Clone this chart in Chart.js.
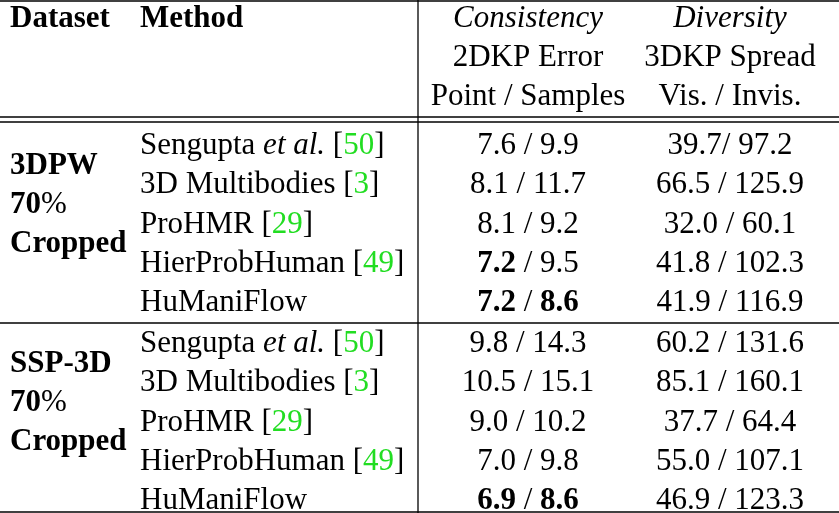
<!DOCTYPE html>
<html>
<head>
<meta charset="utf-8">
<script src="https://cdn.jsdelivr.net/npm/chart.js@4"></script>
<style>
  html, body { margin: 0; padding: 0; background: #fff; }
  #wrap { width: 839px; height: 513px; }
</style>
</head>
<body>
<div id="wrap"><canvas id="c" width="839" height="513"></canvas></div>
<script>
// Table content
const methods = ['Sengupta|et al.|[50]', '3D Multibodies [3]', 'ProHMR [29]', 'HierProbHuman [49]', 'HuManiFlow'];
const consist3dpw = ['7.6 / 9.9', '8.1 / 11.7', '8.1 / 9.2', '*7.2* / 9.5', '*7.2* / *8.6*'];
const divers3dpw = ['39.7/ 97.2', '66.5 / 125.9', '32.0 / 60.1', '41.8 / 102.3', '41.9 / 116.9'];
const consistSsp = ['9.8 / 14.3', '10.5 / 15.1', '9.0 / 10.2', '7.0 / 9.8', '*6.9* / *8.6*'];
const diversSsp = ['60.2 / 131.6', '85.1 / 160.1', '37.7 / 64.4', '55.0 / 107.1', '46.9 / 123.3'];
const headRows = [['Consistency', 'Diversity'], ['2DKP Error', '3DKP Spread'], ['Point / Samples', 'Vis. / Invis.']];
const groupLabels = [['3DPW', '70%', 'Cropped'], ['SSP-3D', '70%', 'Cropped']];

// layout in scale units (scale spans the canvas)
const headY = [19, 58, 97];
const groupStart = [146, 344];
const rowStep = 39.2;
const colX = { dataset: 10, method: 140, cons: 528, div: 730 };

const FONT = '"Liberation Serif", "DejaVu Serif", serif';
const SIZE = 31;
const GREEN = '#22dd22';

function segs(str) {
  const out = [];
  const re = /(\*[^*]+\*|\[[^\]]+\]|\|[^|]+\|)/g;
  let last = 0, m;
  while ((m = re.exec(str))) {
    if (m.index > last) out.push({ t: str.slice(last, m.index) });
    const s = m[0];
    if (s[0] === '*') out.push({ t: s.slice(1, -1), b: true });
    else if (s[0] === '|') out.push({ t: ' ' + s.slice(1, -1) + ' ', i: true });
    else out.push({ t: '[' }, { t: s.slice(1, -1), g: true }, { t: ']' });
    last = m.index + s.length;
  }
  if (last < str.length) out.push({ t: str.slice(last) });
  return out;
}

function fontOf(s) {
  return (s.i ? 'italic ' : '') + (s.b ? 'bold ' : '') + SIZE + 'px ' + FONT;
}

function drawSegs(ctx, list, x, y, align) {
  let w = 0;
  list.forEach(s => { ctx.font = fontOf(s); w += ctx.measureText(s.t).width; });
  let cx = align === 'center' ? x - w / 2 : x;
  list.forEach(s => {
    ctx.font = fontOf(s);
    ctx.fillStyle = s.g ? GREEN : '#000';
    ctx.fillText(s.t, cx, y);
    cx += ctx.measureText(s.t).width;
  });
}

const tablePlugin = {
  id: 'tablePlugin',
  afterDraw(chart) {
    const ctx = chart.ctx;
    const xs = chart.scales.x, ys = chart.scales.y;
    const X = v => xs.getPixelForValue(v), Y = v => ys.getPixelForValue(v);
    ctx.save();
    ctx.textBaseline = 'middle';

    ctx.strokeStyle = '#000';
    ctx.lineWidth = 1.3;
    [1, 117, 122, 323, 512].forEach(v => {
      ctx.beginPath(); ctx.moveTo(X(0), Y(v)); ctx.lineTo(X(839), Y(v)); ctx.stroke();
    });
    ctx.beginPath(); ctx.moveTo(X(418), Y(0)); ctx.lineTo(X(418), Y(513)); ctx.stroke();

    drawSegs(ctx, [{ t: 'Dataset', b: true }], X(colX.dataset), Y(headY[0]), 'left');
    drawSegs(ctx, [{ t: 'Method', b: true }], X(colX.method), Y(headY[0]), 'left');
    headRows.forEach((r, k) => {
      drawSegs(ctx, [{ t: r[0], i: k === 0 }], X(colX.cons), Y(headY[k]), 'center');
      drawSegs(ctx, [{ t: r[1], i: k === 0 }], X(colX.div), Y(headY[k]), 'center');
    });

    [[consist3dpw, divers3dpw], [consistSsp, diversSsp]].forEach((g, gi) => {
      const y0 = groupStart[gi];
      methods.forEach((m, r) => {
        const y = Y(y0 + r * rowStep);
        drawSegs(ctx, segs(m), X(colX.method), y, 'left');
        drawSegs(ctx, segs(g[0][r]), X(colX.cons), y, 'center');
        drawSegs(ctx, segs(g[1][r]), X(colX.div), y, 'center');
      });
      groupLabels[gi].forEach((lab, k) => {
        const y = Y(y0 + (k + 0.5) * rowStep);
        const list = lab === '70%' ? [{ t: '70', b: true }, { t: '%' }] : [{ t: lab, b: true }];
        drawSegs(ctx, list, X(colX.dataset), y, 'left');
      });
    });
    ctx.restore();
  }
};

new Chart(document.getElementById('c'), {
  type: 'scatter',
  data: { datasets: [{ data: [] }] },
  options: {
    responsive: false,
    animation: false,
    layout: { padding: 0 },
    plugins: { legend: { display: false }, tooltip: { enabled: false } },
    scales: {
      x: { type: 'linear', min: 0, max: 839, display: false },
      y: { type: 'linear', min: 0, max: 513, reverse: true, display: false }
    }
  },
  plugins: [tablePlugin]
});
</script>
</body>
</html>
